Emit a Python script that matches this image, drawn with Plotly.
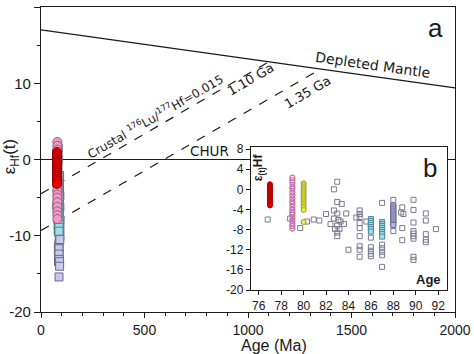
import plotly.graph_objects as go

# ---------------- data ----------------
dm_age = [0, 2000]
dm_eps = [17.0, 9.4]
chur_age = [0, 2000]
chur_eps = [0, 0]
crust110_age = [0, 1100]
crust110_eps = [-4.5, 12.8]
crust135_age = [0, 1350]
crust135_eps = [-9.3, 11.85]

red_age = [77.0] * 15
red_eps = [1.0, 0.7, 0.45, 0.1, -0.2, -0.5, -0.85, -1.1, -1.4, -1.7, -2.05, -2.3, -2.6, -2.9, -3.2]

pink_age = [79.0] * 19
pink_eps = [2.3, 1.8, 1.3, 0.6, 0.1, -0.6, -1.2, -1.8, -2.4, -2.9, -3.5, -4.1, -4.6, -5.0, -5.6, -6.2, -6.8, -7.3, -7.8]

yellow_age = [80.0] * 15
yellow_eps = [1.2, 0.8, 0.4, 0.0, -0.4, -0.8, -1.2, -1.6, -2.0, -2.4, -2.8, -3.2, -3.6, -4.1, -6.5]

cyan_age = [86.0] * 7 + [87.0] * 8
cyan_eps = [-5.9, -6.3, -6.7, -7.1, -7.5, -7.9, -8.4,
            -6.5, -6.9, -7.3, -7.7, -8.1, -8.5, -8.9, -9.4]

lav_age = [88.0] * 11
lav_eps = [-3.2, -3.6, -4.0, -4.4, -4.8, -5.2, -5.6, -6.0, -6.4, -6.8, -7.1]

grey_age = [76.8, 78.8, 79.7, 80.3, 80.9, 81.4, 82.0,
            82.7, 83.0, 83.0, 83.4, 82.7, 83.0, 83.8, 82.7, 83.1, 83.3, 83.6, 82.4, 83.0, 82.8, 83.2, 83.0, 83.0, 84.0,
            85.0, 85.0, 85.0, 84.7, 85.6, 85.0, 85.0, 85.0, 85.0, 85.0, 85.0,
            86.0, 86.0, 86.0, 86.0, 86.0,
            87.0, 87.0, 87.0, 87.0, 87.0, 87.0,
            88.0, 88.0,
            88.8, 88.7, 88.9, 88.8, 88.8,
            89.8, 89.8, 89.8, 89.8, 89.8, 89.8, 89.8, 89.8, 89.8,
            90.9, 90.9, 90.9, 90.9, 90.9,
            91.8]
grey_eps = [-6.0, -5.8, -7.7, -6.4, -6.0, -6.2, -4.9,
            0.0, 1.5, -2.5, -2.9, -4.2, -4.8, -4.8, -5.8, -6.1, -6.4, -6.9, -6.9, -7.2, -7.9, -7.9, -8.6, -9.3, -12.0,
            -4.2, -4.9, -5.5, -5.6, -6.4, -6.7, -7.7, -9.3, -11.3, -12.0, -13.4,
            -9.6, -11.5, -12.2, -12.8, -13.3,
            -2.7, -11.0, -11.7, -12.4, -13.1, -15.4,
            -2.1, -8.3,
            -3.6, -4.6, -4.9, -7.7, -10.1,
            -2.1, -4.1, -6.6, -8.3, -8.8, -9.3, -9.8, -13.4, -14.0,
            -4.8, -6.2, -8.9, -10.0, -10.5,
            -7.9]

main_xticks = [0, 500, 1000, 1500, 2000]
main_xlabels = ["0", "500", "1000", "1500", "2000"]
main_yticks = [-20, -10, 0, 10, 20]
main_ylabels = ["-20", "-10", "0", "10", "20"]
inset_xticks = [76, 78, 80, 82, 84, 86, 88, 90, 92]
inset_xlabels = ["76", "78", "80", "82", "84", "86", "88", "90", "92"]
inset_yticks = [-20, -16, -12, -8, -4, 0, 4, 8]
inset_ylabels = ["-20", "-16", "-12", "-8", "-4", "0", "4", "8"]

main_xrange = [0, 2000]
main_yrange = [-20, 20]
inset_xrange = [75.3, 92.8]
inset_yrange = [-20, 8.4]

# ---------------- figure ----------------
fig = go.Figure()
LINE = "#1a1a1a"

# main reference lines
fig.add_trace(go.Scatter(x=dm_age, y=dm_eps, mode="lines", line=dict(color=LINE, width=1.2),
                         xaxis="x", yaxis="y", hoverinfo="skip"))
fig.add_trace(go.Scatter(x=chur_age, y=chur_eps, mode="lines", line=dict(color=LINE, width=1.2),
                         xaxis="x", yaxis="y", hoverinfo="skip"))
fig.add_trace(go.Scatter(x=crust110_age, y=crust110_eps, mode="lines",
                         line=dict(color=LINE, width=1.2, dash="dash"), xaxis="x", yaxis="y"))
fig.add_trace(go.Scatter(x=crust135_age, y=crust135_eps, mode="lines",
                         line=dict(color=LINE, width=1.2, dash="dash"), xaxis="x", yaxis="y"))

# main scatter (big markers)
fig.add_trace(go.Scatter(x=grey_age + lav_age, y=grey_eps + lav_eps, mode="markers", xaxis="x", yaxis="y",
                         marker=dict(symbol="square", size=8, color="#c9c9ee", line=dict(color="#6a6a8a", width=1))))
fig.add_trace(go.Scatter(x=cyan_age, y=cyan_eps, mode="markers", xaxis="x", yaxis="y",
                         marker=dict(symbol="square", size=8, color="#a8dbe8", line=dict(color="#4a8a9a", width=1))))
fig.add_trace(go.Scatter(x=yellow_age, y=yellow_eps, mode="markers", xaxis="x", yaxis="y",
                         marker=dict(symbol="circle", size=9, color="#f0f060", line=dict(color="#666", width=1))))
fig.add_trace(go.Scatter(x=pink_age, y=pink_eps, mode="markers", xaxis="x", yaxis="y",
                         marker=dict(symbol="circle", size=9, color="#f49ac8", line=dict(color="#9a5a80", width=1))))
fig.add_trace(go.Scatter(x=red_age, y=red_eps, mode="markers", xaxis="x", yaxis="y",
                         marker=dict(symbol="circle", size=9, color="#ee0000", line=dict(color="#8a0000", width=1))))

# white background of the inset (its own subplot layer sits above the main one)
bx = [inset_xrange[0], inset_xrange[1], inset_xrange[1], inset_xrange[0], inset_xrange[0]]
by = [inset_yrange[0], inset_yrange[0], inset_yrange[1], inset_yrange[1], inset_yrange[0]]
fig.add_trace(go.Scatter(x=bx, y=by, mode="lines", fill="toself", fillcolor="white",
                         line=dict(width=0, color="white"), xaxis="x2", yaxis="y2", hoverinfo="skip"))

# inset scatter
fig.add_trace(go.Scatter(x=grey_age, y=grey_eps, mode="markers", xaxis="x2", yaxis="y2",
                         marker=dict(symbol="square-open", size=5, color="#7a7a90", line=dict(width=1))))
fig.add_trace(go.Scatter(x=lav_age, y=lav_eps, mode="markers", xaxis="x2", yaxis="y2",
                         marker=dict(symbol="square", size=5, color="#b8b8e6", line=dict(color="#6a6a90", width=1))))
fig.add_trace(go.Scatter(x=cyan_age, y=cyan_eps, mode="markers", xaxis="x2", yaxis="y2",
                         marker=dict(symbol="square", size=5, color="#a8dbe8", line=dict(color="#4a8a9a", width=1))))
fig.add_trace(go.Scatter(x=yellow_age, y=yellow_eps, mode="markers", xaxis="x2", yaxis="y2",
                         marker=dict(symbol="circle", size=5, color="#f0f040", line=dict(color="#9a9a30", width=1))))
fig.add_trace(go.Scatter(x=pink_age, y=pink_eps, mode="markers", xaxis="x2", yaxis="y2",
                         marker=dict(symbol="circle-open", size=5, color="#c86aa8", line=dict(width=1.2))))
fig.add_trace(go.Scatter(x=red_age, y=red_eps, mode="markers", xaxis="x2", yaxis="y2",
                         marker=dict(symbol="circle", size=5, color="#e00000", line=dict(color="#b00000", width=1))))

AX = dict(showgrid=False, zeroline=False, showline=True, linecolor=LINE, linewidth=1.2, mirror=True,
          ticks="outside", tickcolor=LINE, tickmode="array", automargin=False)

fig.update_layout(
    width=474, height=354,
    margin=dict(l=41, r=19, t=7, b=42, autoexpand=False),
    paper_bgcolor="white", plot_bgcolor="white",
    showlegend=False,
    font=dict(family="Liberation Sans, Arial, sans-serif", color="#1a1a1a"),
    xaxis=dict(AX, domain=[0, 1], range=main_xrange, tickvals=main_xticks, ticktext=main_xlabels,
               ticklen=5, tickwidth=1.2, tickfont=dict(size=14), anchor="y",
               minor=dict(ticks="outside", tickmode="linear", tick0=0, dtick=100, ticklen=3, tickcolor=LINE)),
    yaxis=dict(AX, domain=[0, 1], range=main_yrange, tickvals=main_yticks, ticktext=main_ylabels,
               ticklen=6, tickwidth=1.2, tickfont=dict(size=15), anchor="x",
               minor=dict(ticks="outside", tickmode="linear", tick0=0, dtick=5, ticklen=3, tickcolor=LINE)),
    xaxis2=dict(AX, domain=[0.507, 0.981], range=inset_xrange, tickvals=inset_xticks, ticktext=inset_xlabels,
                ticklen=4, tickfont=dict(size=12), anchor="y2"),
    yaxis2=dict(AX, domain=[0.072, 0.541], range=inset_yrange, tickvals=inset_yticks, ticktext=inset_ylabels,
                ticklen=4, tickfont=dict(size=12), anchor="x2"),
)

LBL = dict(family="DejaVu Sans, Verdana, sans-serif", size=13, color="#1a1a1a")
ann = [
    dict(text="Depleted Mantle", x=1604, y=12.4, xref="x", yref="y", textangle=8,
         font=dict(LBL, size=14)),
    dict(text="Crustal <sup>176</sup>Lu/<sup>177</sup>Hf=0.015", x=551, y=5.7, xref="x", yref="y",
         textangle=-30, font=dict(LBL, size=12)),
    dict(text="1.10 Ga", x=1010, y=10.5, xref="x", yref="y", textangle=-30, font=LBL),
    dict(text="1.35 Ga", x=1285, y=8.8, xref="x", yref="y", textangle=-30, font=LBL),
    dict(text="CHUR", x=816, y=1.05, xref="x", yref="y", font=dict(LBL, size=13.5)),
    dict(text="a", x=0.952, y=0.931, xref="paper", yref="paper", font=dict(size=26)),
    dict(text="b", x=0.94, y=0.472, xref="paper", yref="paper", font=dict(size=26)),
    dict(text="Age (Ma)", x=0.563, y=-0.109, xref="paper", yref="paper", font=dict(size=16)),
    dict(text="ε<sub>Hf</sub>(t)", x=-0.072, y=0.511, xref="paper", yref="paper", textangle=-90,
         font=dict(size=17)),
    dict(text="<b>ε<sub>(t)</sub>Hf</b>", x=0.527, y=0.475, xref="paper", yref="paper", textangle=-90,
         font=dict(size=12)),
    dict(text="<b>Age</b>", x=0.935, y=0.105, xref="paper", yref="paper", font=dict(size=13)),
]
for a in ann:
    a["showarrow"] = False
    a["xanchor"] = "center"
    a["yanchor"] = "middle"
    fig.add_annotation(**a)

fig.write_html("out.html")
